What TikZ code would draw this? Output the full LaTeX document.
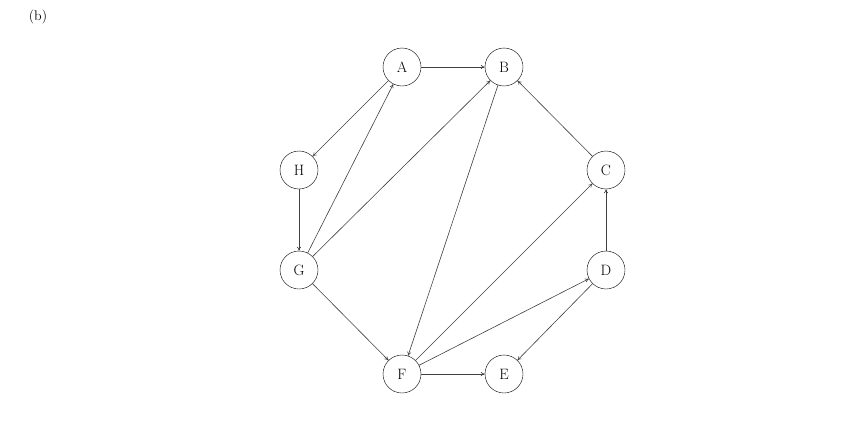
\documentclass[tikz,border=0pt]{standalone}
\usetikzlibrary{arrows.meta}
\begin{document}
\begin{tikzpicture}[x=1pt,y=-1pt,
  vtx/.style={circle,draw,minimum size=38pt,inner sep=0pt,font=\fontsize{15}{18}\selectfont},
  edge/.style={draw,-{To[length=4pt,width=4pt]},line width=0.6pt,color=black!75}]
\useasboundingbox (0,0) rectangle (868,434);
\node[font=\fontsize{14}{16}\selectfont] (lbl) at (38,17) {(b)};
\node[vtx] (A) at (402,67) {A};
\node[vtx] (B) at (504,67) {B};
\node[vtx] (C) at (606,170) {C};
\node[vtx] (D) at (606,270) {D};
\node[vtx] (E) at (504,374) {E};
\node[vtx] (F) at (402,374) {F};
\node[vtx] (G) at (299,270) {G};
\node[vtx] (H) at (299,170) {H};
\path[edge] (A) -- (B);
\path[edge] (A) -- (H);
\path[edge] (H) -- (G);
\path[edge] (G) -- (A);
\path[edge] (G) -- (B);
\path[edge] (B) -- (F);
\path[edge] (C) -- (B);
\path[edge] (D) -- (C);
\path[edge] (D) -- (E);
\path[edge] (F) -- (E);
\path[edge] (F) -- (C);
\path[edge] (F) -- (D);
\path[edge] (G) -- (F);
\end{tikzpicture}
\end{document}
